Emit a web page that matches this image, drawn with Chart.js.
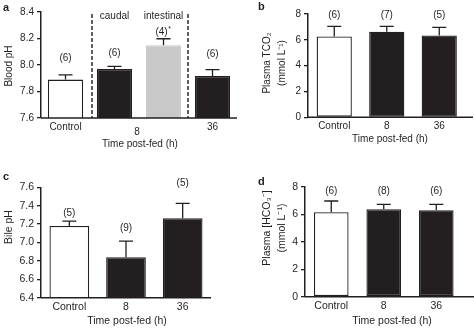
<!DOCTYPE html>
<html>
<head>
<meta charset="utf-8">
<script src="https://cdn.jsdelivr.net/npm/chart.js@4.4.1/dist/chart.umd.min.js"></script>
<style>
  html, body { margin: 0; padding: 0; background: #fff; }
  body { width: 474px; height: 329px; position: relative; overflow: hidden; }
  .panel { position: absolute; }
</style>
</head>
<body>
<div class="panel" style="left:0;top:0;width:240px;height:165px"><canvas id="graficoA"></canvas></div>
<div class="panel" style="left:240px;top:0;width:234px;height:165px"><canvas id="graficoB"></canvas></div>
<div class="panel" style="left:0;top:165px;width:240px;height:164px"><canvas id="graficoC"></canvas></div>
<div class="panel" style="left:240px;top:165px;width:234px;height:164px"><canvas id="graficoD"></canvas></div>
<script>
// dados
const catA = ['Control', 'caudal', 'intestinal', '36'];
const bloodPH = [7.89, 7.97, 8.15, 7.917];
const bloodPHErr = [0.035, 0.02, 0.048, 0.048];
const nA = ['(6)', '(6)', '(4)', '(6)'];

const cat3 = ['Control', '8', '36'];
const tco2 = [6.26, 6.63, 6.34];
const tco2Err = [0.78, 0.41, 0.62];
const nB = ['(6)', '(7)', '(5)'];

const bilePH = [7.18, 6.84, 7.263];
const bilePHErr = [0.053, 0.176, 0.163];
const nC = ['(5)', '(9)', '(5)'];

const hco3 = [6.14, 6.36, 6.28];
const hco3Err = [0.82, 0.36, 0.44];
const nD = ['(6)', '(8)', '(6)'];

const ticksA = [7.6, 7.8, 8.0, 8.2, 8.4];
const ticksC = [6.4, 6.6, 6.8, 7.0, 7.2, 7.4, 7.6];

const FONT = 'Arial, "Liberation Sans", Helvetica, sans-serif';
const PRETO = '#231f20';

// barras de erro + rótulos de n + eixo x desenhados à mão
const extras = {
    id: 'extras',
    afterDatasetsDraw(chart, args, opts) {
        const ctx = chart.ctx;
        const meta = chart.getDatasetMeta(0);
        const y = chart.scales.y;
        const ca = chart.chartArea;
        ctx.save();
        ctx.strokeStyle = PRETO;
        ctx.lineWidth = 1.3;
        meta.data.forEach((bar, i) => {
            const top = y.getPixelForValue(opts.values[i] + opts.err[i]);
            ctx.beginPath();
            ctx.moveTo(bar.x, bar.y);
            ctx.lineTo(bar.x, top);
            ctx.moveTo(bar.x - 7, top);
            ctx.lineTo(bar.x + 7, top);
            ctx.stroke();
        });
        // eixo x
        ctx.lineWidth = 1.5;
        ctx.beginPath();
        ctx.moveTo(ca.left, ca.bottom);
        ctx.lineTo(ca.left + opts.axisLen, ca.bottom);
        ctx.stroke();

        ctx.fillStyle = PRETO;
        ctx.font = '10px ' + FONT;
        ctx.textAlign = 'center';
        ctx.textBaseline = 'middle';
        meta.data.forEach((bar, i) => {
            ctx.fillText(opts.n[i], bar.x + (opts.nDx ? opts.nDx[i] : 0), opts.nY[i]);
        });
        if (opts.star) {
            const b = meta.data[2];
            ctx.font = '7px ' + FONT;
            ctx.fillText('*', b.x + 6, opts.nY[2] - 3);
        }
        // título do eixo x
        ctx.font = opts.xFont + 'px ' + FONT;
        ctx.fillText('Time post-fed (h)', opts.xTitleX, opts.xTitleY);
        // título do eixo y
        ctx.save();
        ctx.translate(opts.yTitleX[0], opts.yTitleY);
        ctx.rotate(-Math.PI / 2);
        ctx.font = opts.xFont + 'px ' + FONT;
        ctx.fillText(opts.yTitle[0], 0, 0);
        if (opts.yTitle[1]) ctx.fillText(opts.yTitle[1], 0, opts.yTitleX[1] - opts.yTitleX[0]);
        ctx.restore();
        // letra do painel
        ctx.font = 'bold 11px ' + FONT;
        ctx.textAlign = 'left';
        ctx.fillText(opts.letter, opts.letterX, opts.letterY);
        // extras do painel a
        if (opts.dashed) {
            ctx.setLineDash([4, 2]);
            ctx.lineWidth = 1.4;
            const d1 = meta.data[0].x + (meta.data[1].x - meta.data[0].x) / 2 + 2;
            const d2 = meta.data[2].x + (meta.data[3].x - meta.data[2].x) / 2;
            [d1, d2].forEach(x => {
                ctx.beginPath();
                ctx.moveTo(x, 14);
                ctx.lineTo(x, ca.bottom);
                ctx.stroke();
            });
            ctx.setLineDash([]);
            ctx.textAlign = 'center';
            ctx.font = '10px ' + FONT;
            ctx.fillText('caudal', meta.data[1].x, 16);
            ctx.fillText('intestinal', meta.data[2].x, 16);
            ctx.fillText('8', (meta.data[1].x + meta.data[2].x) / 2 - 2, 132);
        }
        ctx.restore();
    }
};

function makeChart(id, labels, values, colors, borders, yMin, yMax, yTicks, geom, extraOpts) {
    return new Chart(document.getElementById(id), {
        type: 'bar',
        data: {
            labels: labels,
            datasets: [{
                data: values,
                backgroundColor: colors,
                borderColor: borders,
                borderWidth: 1.3,
                borderSkipped: false,
                barPercentage: geom.barPct,
                categoryPercentage: 1
            }]
        },
        options: {
            responsive: true,
            maintainAspectRatio: false,
            animation: false,
            events: [],
            layout: { padding: { top: geom.top, right: geom.right, left: 0, bottom: 0 } },
            plugins: { legend: { display: false }, tooltip: { enabled: false }, extras: extraOpts },
            scales: {
                x: {
                    grid: { display: false, drawTicks: false },
                    border: { display: false },
                    ticks: {
                        color: PRETO,
                        font: { family: FONT, size: geom.tickFont },
                        padding: geom.tickPad,
                        maxRotation: 0,
                        autoSkip: false,
                        callback: function (v, i) { return geom.xLabels[i]; }
                    },
                    afterFit: s => { s.height = geom.xHeight; }
                },
                y: {
                    min: yMin,
                    max: yMax,
                    afterBuildTicks: s => { s.ticks = yTicks.map(v => ({ value: v })); },
                    grid: { drawOnChartArea: false, drawTicks: true, tickLength: 4, color: PRETO, lineWidth: 1.3 },
                    border: { display: true, color: PRETO, width: 1.5 },
                    ticks: {
                        color: PRETO,
                        font: { family: FONT, size: geom.tickFont },
                        padding: 3,
                        callback: v => geom.yDec ? v.toFixed(1) : v
                    },
                    afterFit: s => { s.width = geom.yWidth; }
                }
            }
        },
        plugins: [extras]
    });
}

const BRANCO = '#ffffff';
const CINZA = '#c8c8c8';

makeChart('graficoA', catA, bloodPH,
    [BRANCO, PRETO, CINZA, PRETO], [PRETO, PRETO, CINZA, PRETO],
    7.6, 8.4, ticksA,
    { top: 12, right: 3, xHeight: 47, yWidth: 41, barPct: 0.72, tickFont: 10, tickPad: 3, yDec: true,
      xLabels: ['Control', '', '', '36'] },
    { values: bloodPH, err: bloodPHErr, n: nA, nY: [58, 53, 32, 54], nDx: [0, 0, -2, 0], star: true,
      axisLen: 196, xFont: 10, xTitleX: 140, xTitleY: 144, yTitle: ['Blood pH'], yTitleX: [9], yTitleY: 66,
      letter: 'a', letterX: 3, letterY: 8, dashed: true });

makeChart('graficoB', cat3, tco2,
    [BRANCO, PRETO, PRETO], [PRETO, PRETO, PRETO],
    0, 8, [0, 2, 4, 6, 8],
    { top: 14, right: 8.5, xHeight: 47.7, yWidth: 68, barPct: 0.67, tickFont: 10, tickPad: 3, yDec: false,
      xLabels: cat3 },
    { values: tco2, err: tco2Err, n: nB, nY: [15, 15, 15],
      axisLen: 165, xFont: 10, xTitleX: 150, xTitleY: 139, yTitle: ['Plasma TCO\u2082', '(mmol L\u207B\u00B9)'], yTitleX: [27, 42], yTitleY: 63,
      letter: 'b', letterX: 18, letterY: 7 });

makeChart('graficoC', cat3, bilePH,
    [BRANCO, PRETO, PRETO], [PRETO, PRETO, PRETO],
    6.4, 7.6, ticksC,
    { top: 22.3, right: 29, xHeight: 31.3, yWidth: 41, barPct: 0.7, tickFont: 10.5, tickPad: 3, yDec: true,
      xLabels: cat3 },
    { values: bilePH, err: bilePHErr, n: nC, nY: [48, 63, 18],
      axisLen: 170, xFont: 10.5, xTitleX: 127, xTitleY: 156, yTitle: ['Bile pH'], yTitleX: [9], yTitleY: 62,
      letter: 'c', letterX: 3, letterY: 12 });

makeChart('graficoD', cat3, hco3,
    [BRANCO, PRETO, PRETO], [PRETO, PRETO, PRETO],
    0, 8, [0, 2, 4, 6, 8],
    { top: 21.7, right: 11.5, xHeight: 32.3, yWidth: 65, barPct: 0.66, tickFont: 10.5, tickPad: 3, yDec: false,
      xLabels: cat3 },
    { values: hco3, err: hco3Err, n: nD, nY: [26, 26, 26],
      axisLen: 169, xFont: 10.5, xTitleX: 152, xTitleY: 156, yTitle: ['Plasma [HCO\u2083\u207B]', '(mmol L\u207B\u00B9)'], yTitleX: [27, 42], yTitleY: 63,
      letter: 'd', letterX: 18, letterY: 17 });
</script>
</body>
</html>
